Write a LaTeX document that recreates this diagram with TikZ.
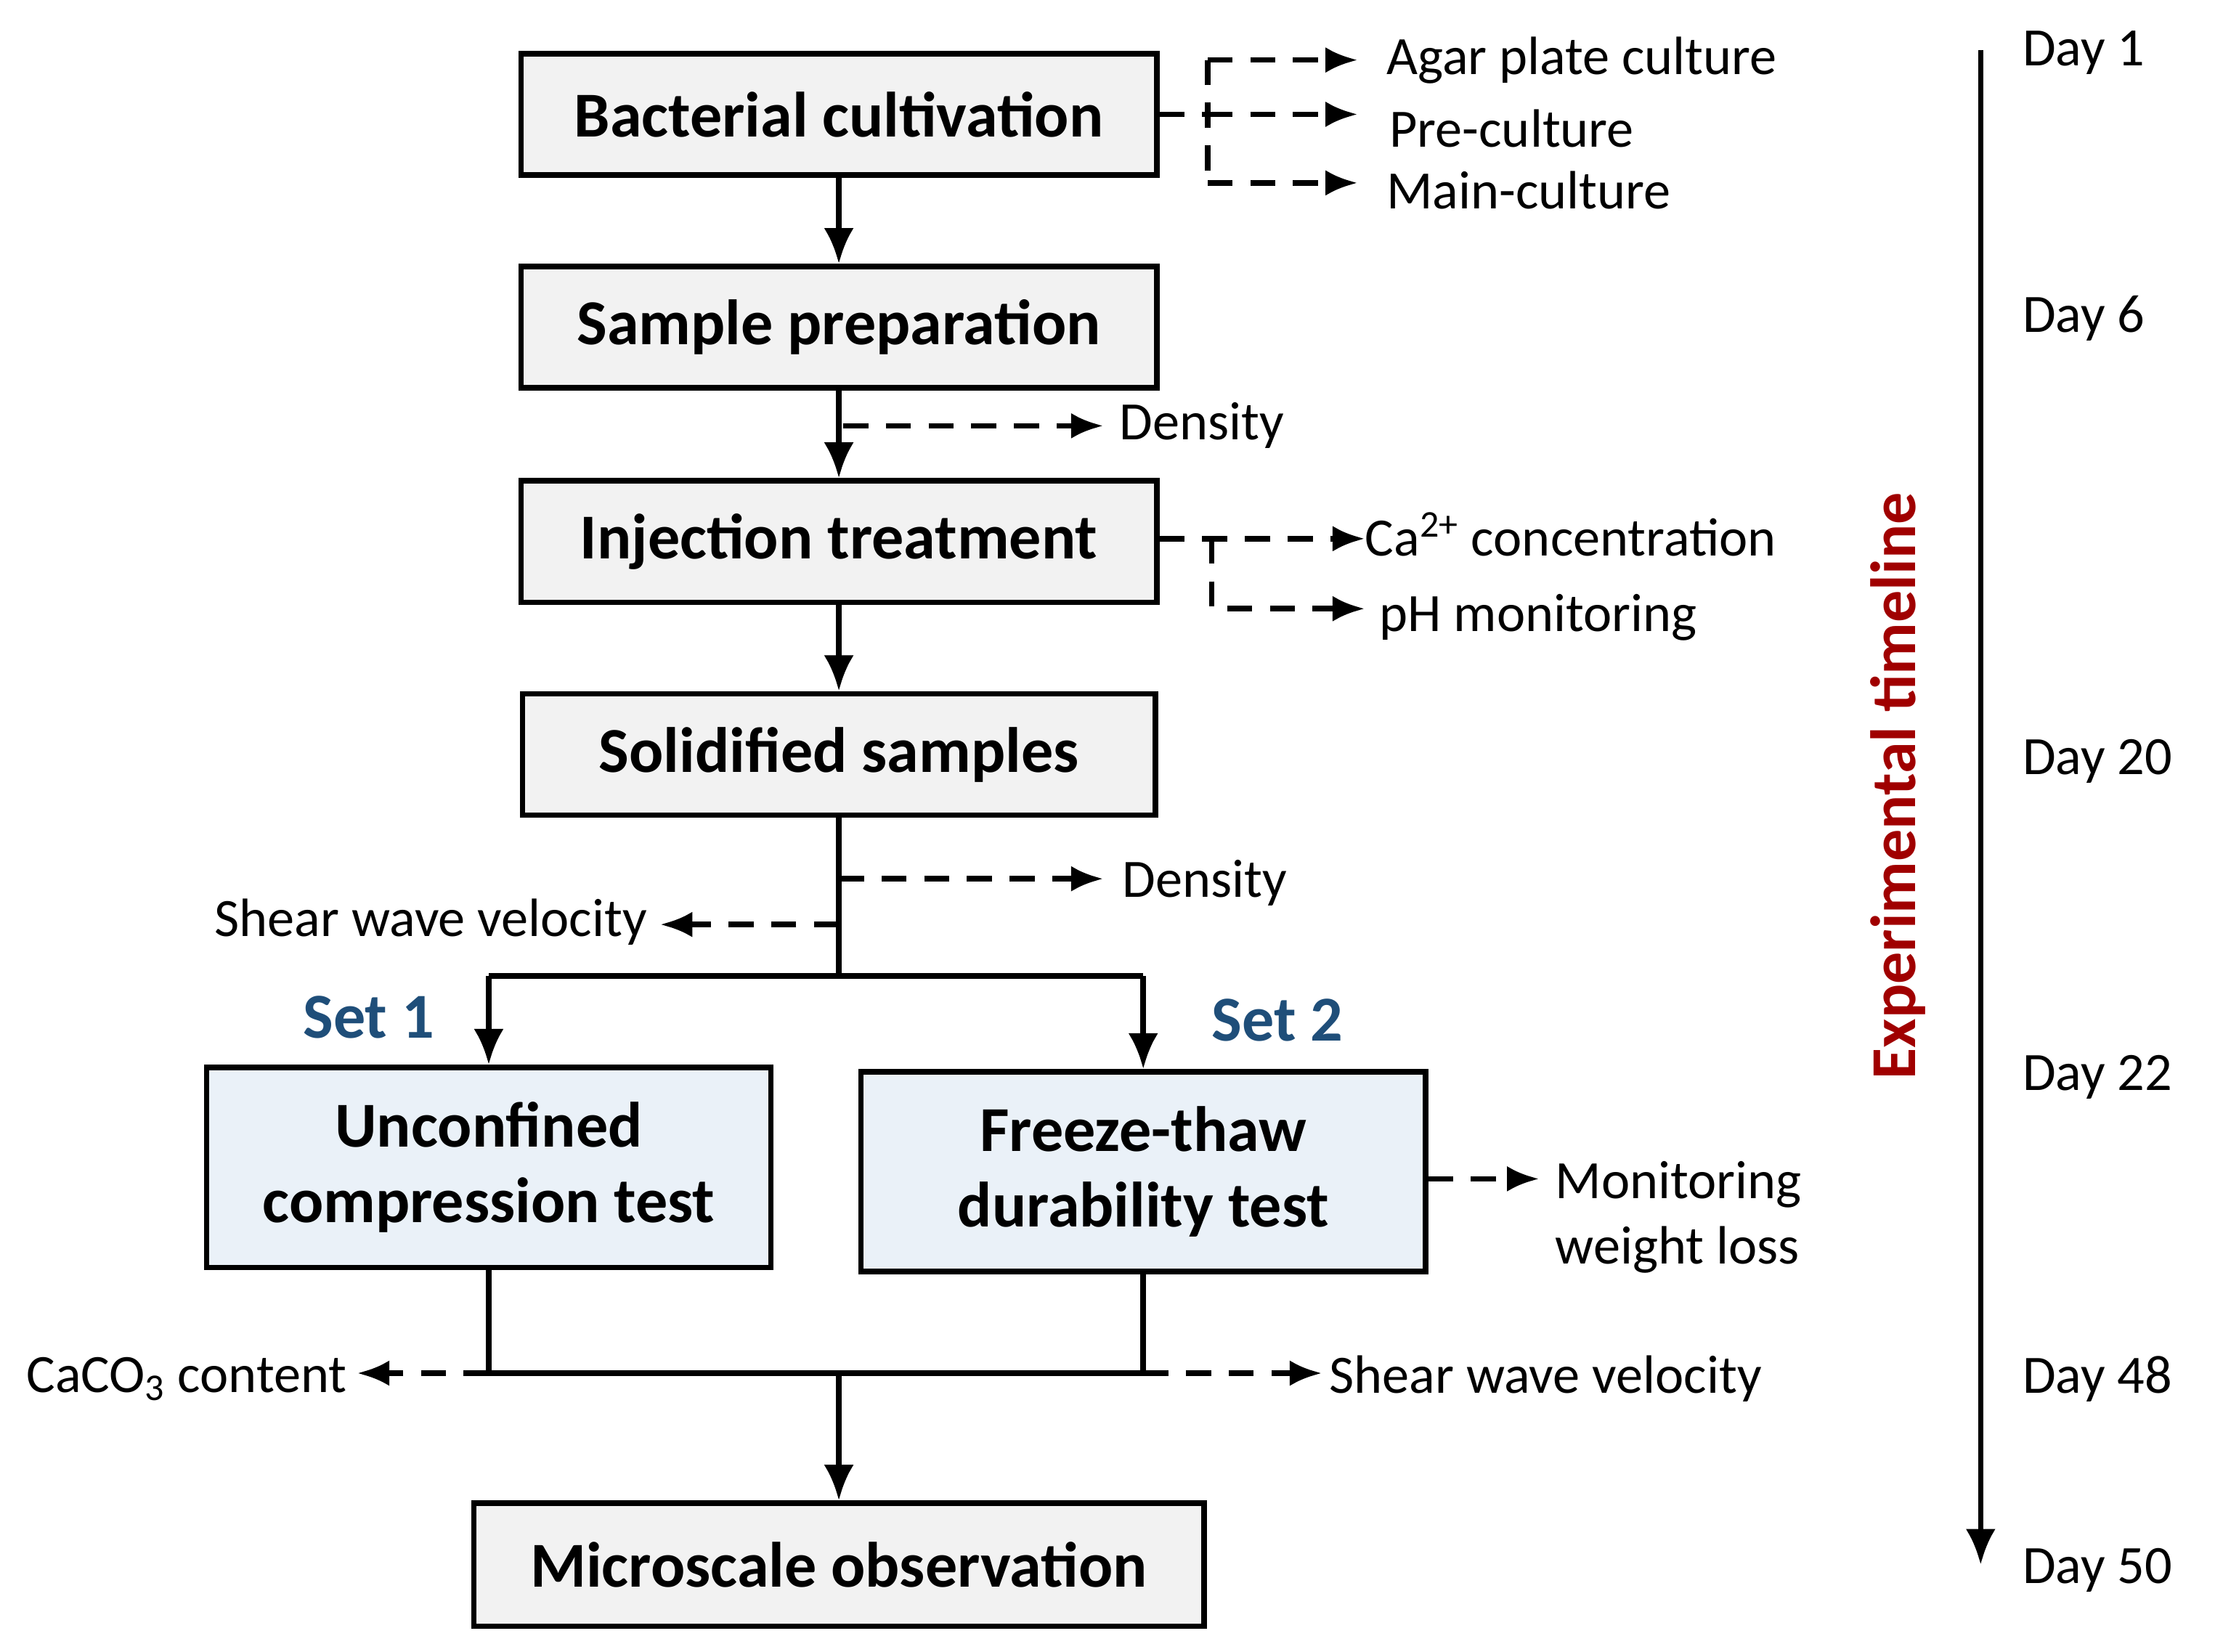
\documentclass[tikz,border=0pt]{standalone}
\usepackage{fontspec}
\setmainfont{Carlito}
\usetikzlibrary{arrows.meta}
\definecolor{boxgray}{HTML}{F2F2F2}
\definecolor{boxblue}{HTML}{EAF1F8}
\definecolor{setblue}{HTML}{1F4E79}
\definecolor{timered}{HTML}{A00000}
\begin{document}
\begin{tikzpicture}[x=0.02cm,y=-0.02cm,
  box/.style={draw,line width=2.2pt,fill=boxgray,font=\fontsize{25.5}{30}\selectfont\bfseries,align=center,inner sep=0pt},
  lbl/.style={font=\fontsize{21.5}{26}\selectfont,inner sep=0pt},
  arr/.style={line width=2.2pt,-{Latex[length=0.5cm,width=0.42cm]}},
  dsh/.style={line width=2.2pt,dashed,dash pattern=on 10pt off 7pt},
  darr/.style={dsh,-{Latex[length=0.45cm,width=0.36cm]}},
  ln/.style={line width=2.2pt}]
\useasboundingbox (0,0) rectangle (1550,1156);
% boxes
\node[box,minimum width=8.9cm,minimum height=1.7cm] (b1) at (587,80) {Bacterial cultivation};
\node[box,minimum width=8.9cm,minimum height=1.7cm] (b2) at (587,229) {Sample preparation};
\node[box,minimum width=8.9cm,minimum height=1.7cm] (b3) at (587,379) {Injection treatment};
\node[box,minimum width=8.86cm,minimum height=1.7cm] (b4) at (587,528) {Solidified samples};
\node[box,fill=boxblue,minimum width=7.9cm,minimum height=2.8cm] (b5) at (342,817) {Unconfined\\compression test};
\node[box,fill=boxblue,minimum width=7.9cm,minimum height=2.8cm] (b6) at (800,820) {Freeze-thaw\\durability test};
\node[box,minimum width=10.22cm,minimum height=1.72cm] (b7) at (587,1095) {Microscale observation};
% main flow
\draw[arr] (b1) -- (b2);
\draw[arr] (b2) -- (b3);
\draw[arr] (b3) -- (b4);
\coordinate (split) at (587,683);
\draw[ln] (b4) -- (split);
\coordinate (s1) at (342,683);
\coordinate (s2) at (800,683);
\draw[ln] (s1) -- (s2);
\draw[arr] (s1) -- (b5);
\draw[arr] (s2) -- (b6.north -| s2);
\coordinate (j1) at (342,961);
\coordinate (j2) at (800,961);
\coordinate (jm) at (587,961);
\draw[ln] (b5) -- (j1) -- (j2) -- (b6.south -| j2);
\draw[arr] (jm) -- (b7);
% side measurements
\node[lbl,anchor=west] (t1) at (970,42) {Agar plate culture};
\node[lbl,anchor=west] (t2) at (972,90) {Pre-culture};
\node[lbl,anchor=west] (t3) at (970,133) {Main-culture};
\coordinate (c1) at (845,80);
\coordinate (c1a) at (845,42);
\coordinate (c1b) at (845,128);
\draw[dsh] (b1.east) -- (c1);
\draw[darr] (c1a) -- (950,42);
\draw[darr] (c1) -- (950,80);
\draw[darr] (c1b) -- (950,128);
\draw[dsh] (c1a) -- (c1b);
\node[lbl,anchor=west] (d1) at (783,298) {Density};
\draw[darr] (590,298) -- (772,298);
\node[lbl,anchor=west] (ca) at (955,374) {Ca\textsuperscript{2+} concentration};
\node[lbl,anchor=west] (ph) at (965,432) {pH monitoring};
\coordinate (c3) at (848,377);
\draw[darr] (b3.east |- c3) -- (ca.west |- c3);
\draw[darr] (c3) -- (848,426) -- (955,426);
\node[lbl,anchor=west] (d2) at (785,618) {Density};
\draw[darr] (587,615) -- (772,615);
\node[lbl,anchor=east] (sw1) at (453,645) {Shear wave velocity};
\draw[darr] (587,647) -- (462,647);
\node[font=\fontsize{25.5}{30}\selectfont\bfseries,text=setblue] (set1) at (258,712) {Set 1};
\node[font=\fontsize{25.5}{30}\selectfont\bfseries,text=setblue] (set2) at (894,714) {Set 2};
\node[lbl,anchor=east] (cc) at (243,965) {CaCO\textsubscript{3} content};
\draw[darr] (j1) -- (250,961);
\node[lbl,anchor=west] (sw2) at (930,965) {Shear wave velocity};
\draw[darr] (j2) -- (925,961);
\node[lbl,anchor=west,align=left] (wl) at (1088,852) {Monitoring\\weight loss};
\draw[darr] (b6.east |- 0,825) -- (1077,825);
% timeline
\coordinate (tl0) at (1386,35);
\coordinate (tl1) at (1386,1095);
\draw[arr] (tl0) -- (tl1);
\node[rotate=90,font=\fontsize{25.5}{30}\selectfont\bfseries,text=timered] (et) at (1328,550) {Experimental timeline};
\foreach \d/\y in {1/37,6/223,20/533,22/754,48/965,50/1099}
  \node[lbl,anchor=west] (day\d) at (1415,\y) {Day \d};
\end{tikzpicture}
\end{document}
